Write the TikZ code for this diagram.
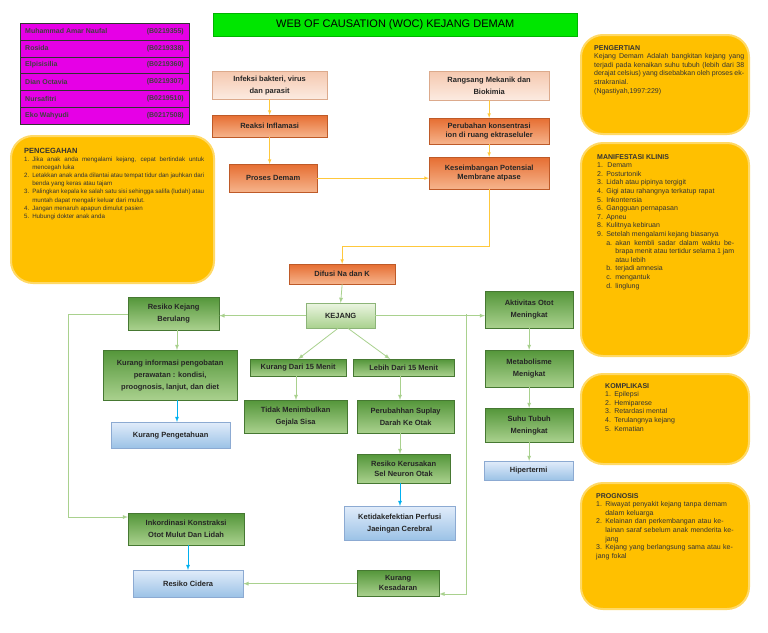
\documentclass[tikz,border=0pt]{standalone}
\usepackage{fontspec}
\setmainfont{Liberation Sans}
\newcommand\li[2]{\par\hangindent=1.3em\hangafter=1\noindent\makebox[1.3em][l]{#1}#2}
\newcommand\lii[2]{\par\hangindent=2.6em\hangafter=1\noindent\hspace*{1.3em}\makebox[1.3em][l]{#1}#2}
\begin{document}
\begin{tikzpicture}[x=1pt,y=-1pt,
  box/.style={draw=none,inner sep=1pt,align=center,font=\fontsize{7.5}{12}\selectfont\bfseries,text=black!85,anchor=north west,minimum height=20pt},
  gbox/.style={box,top color=green!40!black!70!white!60!green,bottom color=green!30!black!20!white!80!green},
  grn/.style={box,top color={rgb,255:red,84;green,150;blue,58},bottom color={rgb,255:red,170;green,209;blue,142},draw={rgb,255:red,70;green,120;blue,50},line width=0.3pt},
  org/.style={box,top color={rgb,255:red,230;green,110;blue,50},bottom color={rgb,255:red,246;green,180;blue,140},draw={rgb,255:red,190;green,90;blue,40},line width=0.3pt},
  pch/.style={box,top color={rgb,255:red,245;green,200;blue,175},bottom color={rgb,255:red,252;green,235;blue,225},draw={rgb,255:red,220;green,170;blue,140},line width=0.3pt},
  blu/.style={box,top color={rgb,255:red,225;green,236;blue,250},bottom color={rgb,255:red,155;green,194;blue,230},draw={rgb,255:red,140;green,170;blue,210},line width=0.3pt},
  kej/.style={box,top color={rgb,255:red,235;green,245;blue,225},bottom color={rgb,255:red,169;green,209;blue,142},draw={rgb,255:red,140;green,180;blue,120},line width=0.3pt},
  ybox/.style={draw={rgb,255:red,255;green,217;blue,102},line width=2pt,fill={rgb,255:red,255;green,192;blue,0},rounded corners=22pt,anchor=north west,inner sep=0pt},
  ytext/.style={anchor=north west,align=justify,font=\fontsize{7}{8.6}\selectfont,text=black!80,inner sep=0pt},
  oln/.style={draw={rgb,255:red,255;green,200;blue,60},line width=0.6pt,-latex},
  gln/.style={draw={rgb,255:red,169;green,209;blue,142},line width=0.8pt,-latex},
  bln/.style={draw={rgb,255:red,0;green,176;blue,240},line width=0.8pt,-latex}]
\useasboundingbox[fill=white] (0,0) rectangle (768,632);
% title
\node[anchor=north west,fill={rgb,255:red,0;green,230;blue,0},draw={rgb,255:red,0;green,180;blue,0},minimum width=364pt,minimum height=23pt,inner sep=0pt,font=\fontsize{11}{13}\selectfont] (title) at (213,13) {WEB OF CAUSATION (WOC) KEJANG DEMAM};
% names table
\foreach \n/\c [count=\i from 0] in {Muhammad Amar Naufal/(B0219355),Rosida/(B0219338),Elpisisilia/(B0219360),Dian Octavia/(B0219307),Nursafitri/(B0219510),Eko Wahyudi/(B0217508)}{
  \node[anchor=north west,draw=black!80,fill={rgb,255:red,230;green,0;blue,230},minimum width=169pt,minimum height=16.8pt,inner sep=0pt] (nm\i) at (20,{23+16.8*\i}) {};
  \node[anchor=west,font=\fontsize{7}{8}\selectfont\bfseries,text=black!75,inner sep=0pt] (nmA\i) at (25,{31.4+16.8*\i}) {\n};
  \node[anchor=east,font=\fontsize{7}{8}\selectfont\bfseries,text=black!75,inner sep=0pt] (nmB\i) at (184,{31.4+16.8*\i}) {\c};
}
% yellow boxes
\node[ybox,minimum width=203pt,minimum height=147pt] (pen) at (10,135) {};
\node[ytext,text width=180pt,font=\fontsize{6.2}{8.1}\selectfont] (pent) at (24,148) {{\fontsize{7.5}{9}\selectfont\bfseries PENCEGAHAN}\li{1.}{Jika anak anda mengalami kejang, cepat bertindak untuk mencegah luka}\li{2.}{Letakkan anak anda dilantai atau tempat tidur dan jauhkan dari benda yang keras atau tajam}\li{3.}{Palingkan kepala ke salah satu sisi sehingga salifa (ludah) atau muntah dapat mengalir keluar dari mulut.}\li{4.}{Jangan menaruh apapun dimulut pasien}\li{5.}{Hubungi dokter anak anda}};
\node[ybox,minimum width=168pt,minimum height=99pt] (peng) at (580,34) {};
\node[ytext,text width=150pt] (pengt) at (594,45) {{\bfseries PENGERTIAN}\par Kejang Demam Adalah bangkitan kejang yang terjadi pada kenaikan suhu tubuh (lebih dari 38 derajat celsius) yang disebabkan oleh proses ekstrakranial.\par\raggedright (Ngastiyah,1997:229)};
\node[ybox,minimum width=168pt,minimum height=213pt] (man) at (580,142) {};
\node[ytext,text width=137pt] (mant) at (597,154) {{\bfseries MANIFESTASI KLINIS}\li{1.}{\,Demam}\li{2.}{Posturtonik}\li{3.}{Lidah atau pipinya tergigit}\li{4.}{Gigi atau rahangnya terkatup rapat}\li{5.}{Inkontensia}\li{6.}{Gangguan pernapasan}\li{7.}{Apneu}\li{8.}{Kulitnya kebiruan}\li{9.}{Setelah mengalami kejang biasanya}\lii{a.}{akan kembli sadar dalam waktu bebrapa menit atau tertidur selama 1 jam atau lebih}\lii{b.}{terjadi amnesia}\lii{c.}{mengantuk}\lii{d.}{linglung}};
\node[ybox,minimum width=168pt,minimum height=90pt] (kom) at (580,373) {};
\node[ytext,text width=130pt] (komt) at (605,383) {{\bfseries KOMPLIKASI}\li{1.}{Epilepsi}\li{2.}{Hemiparese}\li{3.}{Retardasi mental}\li{4.}{Terulangnya kejang}\li{5.}{Kematian}};
\node[ybox,minimum width=168pt,minimum height=126pt] (pro) at (580,482) {};
\node[ytext,text width=140pt,align=left] (prot) at (596,493) {{\bfseries PROGNOSIS}\li{1.}{Riwayat penyakit kejang tanpa demam dalam keluarga}\li{2.}{Kelainan dan perkembangan atau kelainan saraf sebelum anak menderita kejang}\li{3.}{Kejang yang berlangsung sama atau kejang fokal}};
% flow boxes
\node[pch,minimum width=115pt,minimum height=28pt] (inf) at (212,71) {Infeksi bakteri, virus\\dan parasit};
\node[org,minimum width=115pt,minimum height=22pt] (rea) at (212,115) {Reaksi Inflamasi};
\node[org,minimum width=88pt,minimum height=28pt] (pd) at (229,164) {Proses Demam};
\node[pch,minimum width=120pt,minimum height=29pt] (ran) at (429,71) {Rangsang Mekanik dan\\Biokimia};
\node[org,minimum width=120pt,minimum height=26pt,font=\fontsize{7.5}{9}\selectfont\bfseries] (per) at (429,118) {Perubahan konsentrasi\\ion di ruang ektraseluler};
\node[org,minimum width=120pt,minimum height=32pt,font=\fontsize{7.5}{9.5}\selectfont\bfseries] (kes) at (429,157) {Keseimbangan Potensial\\Membrane atpase};
\node[org,minimum width=106pt,minimum height=20pt] (dif) at (289,264) {Difusi Na dan K};
\node[kej,minimum width=69pt,minimum height=25pt] (kej) at (306,303) {KEJANG};
\node[grn,minimum width=91pt,minimum height=33pt] (rkb) at (128,297) {Resiko Kejang\\Berulang};
\node[grn,minimum width=134pt,minimum height=50pt] (kin) at (103,350) {Kurang informasi pengobatan\\perawatan : kondisi,\\proognosis, lanjut, dan diet};
\node[blu,minimum width=119pt,minimum height=26pt] (kpe) at (111,422) {Kurang Pengetahuan};
\node[grn,minimum width=96pt,minimum height=17pt] (kd) at (250,359) {Kurang Dari 15 Menit};
\node[grn,minimum width=101pt,minimum height=17pt] (ld) at (353,359) {Lebih Dari 15 Menit};
\node[grn,minimum width=103pt,minimum height=33pt] (tdk) at (244,400) {Tidak Menimbulkan\\Gejala Sisa};
\node[grn,minimum width=97pt,minimum height=33pt] (psu) at (357,400) {Perubahhan Suplay\\Darah Ke Otak};
\node[grn,minimum width=93pt,minimum height=29pt,font=\fontsize{7.5}{9.5}\selectfont\bfseries] (rks) at (357,454) {Resiko Kerusakan\\Sel Neuron Otak};
\node[blu,minimum width=111pt,minimum height=34pt] (ket) at (344,506) {Ketidakefektian Perfusi\\Jaeingan Cerebral};
\node[grn,minimum width=116pt,minimum height=32pt] (ink) at (128,513) {Inkordinasi Konstraksi\\Otot Mulut Dan Lidah};
\node[blu,minimum width=110pt,minimum height=27pt] (rc) at (133,570) {Resiko Cidera};
\node[grn,minimum width=82pt,minimum height=26pt,font=\fontsize{7.5}{9.5}\selectfont\bfseries] (kk) at (357,570) {Kurang\\Kesadaran};
\node[grn,minimum width=88pt,minimum height=37pt] (akt) at (485,291) {Aktivitas Otot\\Meningkat};
\node[grn,minimum width=88pt,minimum height=37pt] (met) at (485,350) {Metabolisme\\Menigkat};
\node[grn,minimum width=88pt,minimum height=34pt] (suh) at (485,408) {Suhu Tubuh\\Meningkat};
\node[blu,minimum width=89pt,minimum height=19pt] (hip) at (484,461) {Hipertermi};
% connectors
\draw[oln] (inf.south) -- (rea.north);
\draw[oln] (rea.south) -- (rea.south |- pd.north);
\draw[oln] (pd.east) -- (kes.west |- pd.east);
\draw[oln] (ran.south) -- (per.north);
\draw[oln] (per.south) -- (kes.north);
\coordinate (k1) at (kes.south |- 0,246);
\draw[oln] (kes.south) -- (k1) -- (dif.north |- k1) -- (dif.north);
\draw[gln] (dif.south) -- (kej.north);
\draw[gln] (kej.west) -- (rkb.east |- kej.west);
\draw[gln] (kej.east) -- (akt.west |- kej.east);
\coordinate (v1) at (466,314);
\coordinate (v2) at (466,594);
\draw[gln] (v1) -- (v2) -- (kk.east |- v2);
\draw[gln] (kk.west |- rc.east) -- (rc.east);
\coordinate (l1) at (68,314);
\coordinate (l2) at (68,517);
\draw[gln] (rkb.west |- l1) -- (l1) -- (l2) -- (ink.west |- l2);
\draw[gln] (rkb.south -| 177,0) -- (kin.north -| 177,0);
\draw[bln] (kin.south -| 177,0) -- (kpe.north -| 177,0);
\draw[gln] (kej.south west) ++(32,0) -- (kd.north);
\draw[gln] (kej.south west) ++(42,0) -- (ld.north -| 390,0);
\draw[gln] (kd.south -| 296,0) -- (tdk.north -| 296,0);
\draw[gln] (ld.south -| 400,0) -- (psu.north -| 400,0);
\draw[gln] (psu.south -| 400,0) -- (rks.north -| 400,0);
\draw[bln] (rks.south -| 400,0) -- (ket.north -| 400,0);
\draw[bln] (ink.south -| 188,0) -- (rc.north -| 188,0);
\draw[gln] (akt.south) -- (met.north);
\draw[gln] (met.south) -- (suh.north);
\draw[gln] (suh.south) -- (hip.north -| suh.south);
\end{tikzpicture}
\end{document}
